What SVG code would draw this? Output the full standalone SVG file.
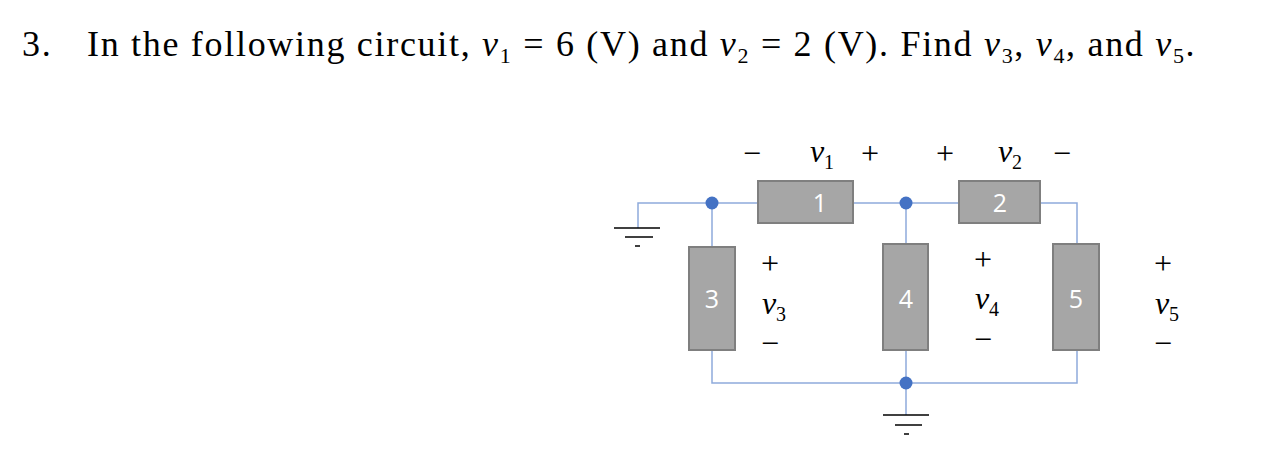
<svg xmlns="http://www.w3.org/2000/svg" width="1278" height="470" viewBox="0 0 1278 470">
<style>
.w{stroke:#8eaadb;stroke-width:1.5;fill:none}
.g{stroke:#000;stroke-width:1.5}
.box{fill:#a6a6a6;stroke:#7f7f7f;stroke-width:2}
.bl{font-family:"Open Sans","Liberation Sans",sans-serif;font-size:25px;fill:#fff;text-anchor:middle}
.t{font-family:"Liberation Serif",serif;font-size:36px;fill:#000}
.m{font-family:"Liberation Serif",serif;font-size:32px;fill:#000;text-anchor:middle}
.v{font-style:italic}
.s{font-size:20px}
.dot{fill:#4472c4}
</style>
<g id="connectors">
<path class="w" d="M712 203H758M853 203H959M1040 203H1077V244M712 203V247M906 203V244M712 203H638V228M712 350V383H1077V350M906 350V415"/>
<line class="g" x1="614" y1="228" x2="660" y2="228"/><line class="g" x1="625" y1="237" x2="653" y2="237"/><line class="g" x1="635" y1="246" x2="640" y2="246"/>
<line class="g" x1="883" y1="415" x2="929" y2="415"/><line class="g" x1="895" y1="425" x2="922" y2="425"/><line class="g" x1="904" y1="434" x2="909" y2="434"/>
</g>
<g id="n1"><rect class="box" x="758" y="181" width="95" height="42"/><text class="bl" x="820" y="212">1</text></g>
<g id="n2"><rect class="box" x="959" y="181" width="81" height="42"/><text class="bl" x="1000" y="212">2</text></g>
<g id="n3"><rect class="box" x="689" y="247" width="46" height="103"/><text class="bl" x="712" y="308">3</text></g>
<g id="n4"><rect class="box" x="883" y="244" width="45" height="106"/><text class="bl" x="906" y="308">4</text></g>
<g id="n5"><rect class="box" x="1053" y="244" width="46" height="106"/><text class="bl" x="1076" y="308">5</text></g>
<g id="dots"><circle class="dot" cx="712" cy="203" r="6.5"/><circle class="dot" cx="906" cy="203" r="6.5"/><circle class="dot" cx="906" cy="383" r="6.5"/></g>
<g id="labels">
<text class="m" x="752" y="164">−</text><text class="m" x="822" y="162"><tspan class="v">v</tspan><tspan class="s" dy="7">1</tspan></text><text class="m" x="870" y="164">+</text>
<text class="m" x="945" y="164">+</text><text class="m" x="1010" y="162"><tspan class="v">v</tspan><tspan class="s" dy="7">2</tspan></text><text class="m" x="1062" y="164">−</text>
<text class="m" x="770" y="274">+</text><text class="m" x="774" y="314"><tspan class="v">v</tspan><tspan class="s" dy="7">3</tspan></text><text class="m" x="770" y="354">−</text>
<text class="m" x="983" y="270">+</text><text class="m" x="987" y="309"><tspan class="v">v</tspan><tspan class="s" dy="7">4</tspan></text><text class="m" x="983" y="350">−</text>
<text class="m" x="1163" y="274">+</text><text class="m" x="1167" y="314"><tspan class="v">v</tspan><tspan class="s" dy="7">5</tspan></text><text class="m" x="1163" y="354">−</text>
</g>
<text class="t" x="22" y="56" textLength="1138" lengthAdjust="spacing">3.<tspan x="87">In the following circuit, </tspan><tspan class="v">v</tspan><tspan font-size="22" dy="7">1</tspan><tspan dy="-7"> = 6 (V) and </tspan><tspan class="v">v</tspan><tspan font-size="22" dy="7">2</tspan><tspan dy="-7"> = 2 (V).  Find </tspan><tspan class="v">v</tspan><tspan font-size="22" dy="7">3</tspan><tspan dy="-7">, </tspan><tspan class="v">v</tspan><tspan font-size="22" dy="7">4</tspan><tspan dy="-7">, and </tspan><tspan class="v">v</tspan><tspan font-size="22" dy="7">5</tspan><tspan dy="-7">.</tspan></text>
</svg>
